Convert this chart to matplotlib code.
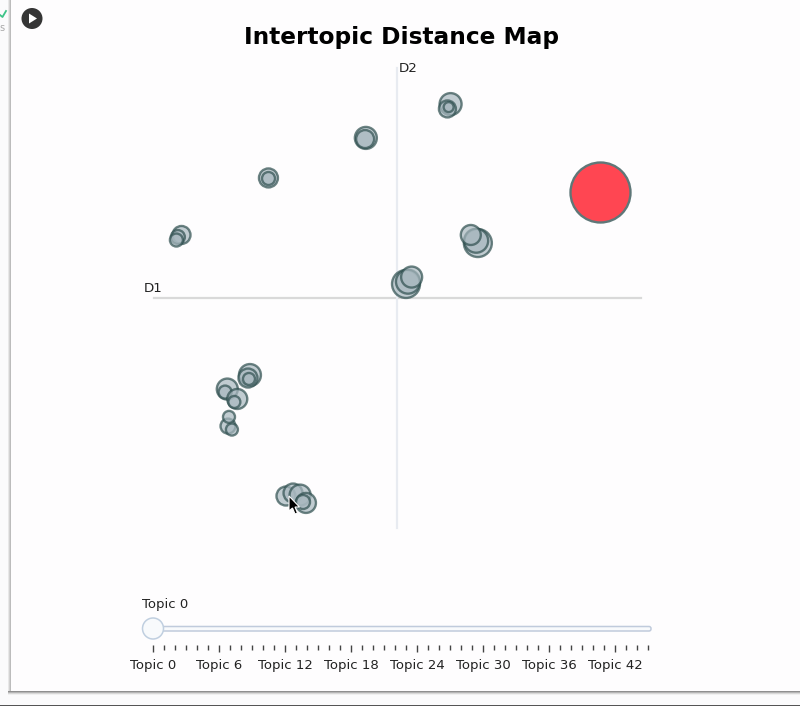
import matplotlib
matplotlib.use("Agg")
import matplotlib.pyplot as plt
from matplotlib.patches import Circle, FancyBboxPatch, Polygon, Rectangle

# topic positions on the map
d1_values = [2.18, 2.05, 2.10, -1.30, -1.33, -5.30, -8.87, -9.02, -9.08,
             3.30, 3.23, 3.01, 0.35, 0.43, 0.58,
             -6.06, -6.14, -6.10, -6.99, -7.08, -6.58, -6.70, -6.96, -6.92, -6.80,
             -4.58, -4.29, -4.00, -3.76, -3.88]
d2_values = [8.43, 8.22, 8.30, 6.96, 6.91, 5.22, 2.74, 2.65, 2.52,
             2.39, 2.49, 2.74, 0.61, 0.71, 0.91,
             -3.35, -3.48, -3.52, -3.96, -4.09, -4.39, -4.52, -5.57, -5.17, -5.72,
             -8.61, -8.48, -8.57, -8.91, -8.87]
bubble_radius = [11, 8.5, 5, 11, 9, 9.5, 9, 7, 6.5,
                 14, 12, 10, 14, 12, 10.5,
                 11, 9.5, 6, 10.5, 6.5, 10, 6, 7.5, 6, 6,
                 9.5, 9.5, 10.5, 10, 7]
ring_d1 = -5.30
ring_d2 = 5.22
ring_radius = 6.5
selected_d1 = 8.32
selected_d2 = 4.59
selected_radius = 30

title = "Intertopic Distance Map"
slider_label = "Topic 0"
major_topics = [0, 6, 12, 18, 24, 30, 36, 42]
minor_topics = [t for t in range(46) if t % 6 != 0]
major_labels = ["Topic %d" % t for t in major_topics]

W, H = 800, 706
bg = "#fefdfe"
dot_fill = "#A8B8BF"
dot_edge = "#2F4F4F"

fig = plt.figure(figsize=(W / 100, H / 100), dpi=100, facecolor="white")


def px_axes(left, top, right, bottom):
    return fig.add_axes([left / W, 1 - bottom / H, (right - left) / W, (bottom - top) / H])


def px_to_pt(r):
    return (2 * r * 0.72) ** 2


# page behind the chart, in pixel coordinates
page = px_axes(0, 0, W, H)
page.set_xlim(0, W)
page.set_ylim(H, 0)
page.axis("off")
page.add_patch(Rectangle((0, 0), W, H, fc="#fbfbfc", ec="none"))
for i, c in enumerate(["#e8e8e8", "#d2d2d2", "#bcbcbc"]):
    page.add_patch(Rectangle((8 + i, 0), 3 - i, 694, fc=c, ec="none"))
for i, c in enumerate(["#f0f0f0", "#d8d8d8", "#b5b5b5", "#8f8f8f"]):
    page.add_patch(Rectangle((8, 694 - i), W, 1, fc=c, ec="none"))
page.add_patch(Rectangle((11, 0), W, 691, fc=bg, ec="none"))
page.add_patch(Rectangle((0, 704.5), W, 1.5, fc="#555555", ec="none"))
page.plot([0, 2.5, 6], [15, 17, 11], color="#3cc488", lw=1.3)
page.text(-1, 28, "s", color="#aaaaaa", fontsize=7, va="center")
page.add_patch(Circle((32, 18.5), 10.5, fc="#353535", ec="none"))
page.add_patch(Polygon([(29, 13.5), (29, 23.5), (37, 18.5)], fc="white", ec="none"))

# the map
ax = px_axes(154, 68, 641, 528)
ax.set_xlim(-10, 10)
ax.set_ylim(-10, 10)
ax.axis("off")
ax.plot([-10, 10], [0, 0], color="#d9d9d9", lw=1.6, zorder=1, clip_on=False)
ax.plot([-0.02, -0.02], [-10, 10], color="#e8ebf1", lw=1.6, zorder=1, clip_on=False)
ax.scatter(d1_values, d2_values, s=[px_to_pt(r) for r in bubble_radius],
           c=dot_fill, edgecolors=dot_edge, linewidths=1.7, alpha=0.7, zorder=3, clip_on=False)
ax.scatter([ring_d1], [ring_d2], s=[px_to_pt(ring_radius)], c=dot_fill, edgecolors=dot_edge,
           linewidths=1.7, alpha=0.7, zorder=3)
ax.scatter([selected_d1], [selected_d2], s=[px_to_pt(selected_radius)], c="#ff4652",
           edgecolors="#5f7778", linewidths=1.7, zorder=3)

page.text(401.5, 37.5, title, fontsize=16.75, fontweight="bold", color="black", ha="center", va="center", zorder=5)

# labels and cursor sit on top of the map
over = px_axes(0, 0, W, H)
over.set_xlim(0, W)
over.set_ylim(H, 0)
over.axis("off")
over.patch.set_alpha(0)
over.text(399, 68.5, "D2", fontsize=9.6, va="center", color="#222222")
over.text(144, 288, "D1", fontsize=9.6, va="center", color="#222222")
over.text(142, 604.5, slider_label, fontsize=9.5, va="center", color="#222222")
over.add_patch(Polygon([(289, 496), (289, 511), (292.5, 508), (295, 514), (297.5, 513),
                        (295, 507), (299.5, 507)], fc="black", ec="white", lw=0.8))

# slider, x axis in topics
slider = px_axes(142, 620, 662, 645)
slider.set_xlim((142 - 153) / 11, (662 - 153) / 11)
slider.set_ylim(0, 1)
slider.patch.set_alpha(0)
for s in slider.spines.values():
    s.set_visible(False)
slider.set_yticks([])
slider.set_xticks(major_topics)
slider.set_xticklabels(major_labels, fontsize=9.5, color="#222222")
slider.set_xticks(minor_topics, minor=True)
slider.tick_params(axis="x", which="major", length=5, width=1, color="#444444", pad=5)
slider.tick_params(axis="x", which="minor", length=3.5, width=1, color="#444444")

over.add_patch(FancyBboxPatch((153, 626.5), 498, 4.5, boxstyle="round,pad=0,rounding_size=2",
                              fc="#f8fafc", ec="#c0cbdc", lw=1.1))
over.add_patch(Circle((153, 628.5), 10.5, fc="#f8fafc", ec="#c0cfe0", lw=1.1))

fig.savefig("out.png", dpi=100)
